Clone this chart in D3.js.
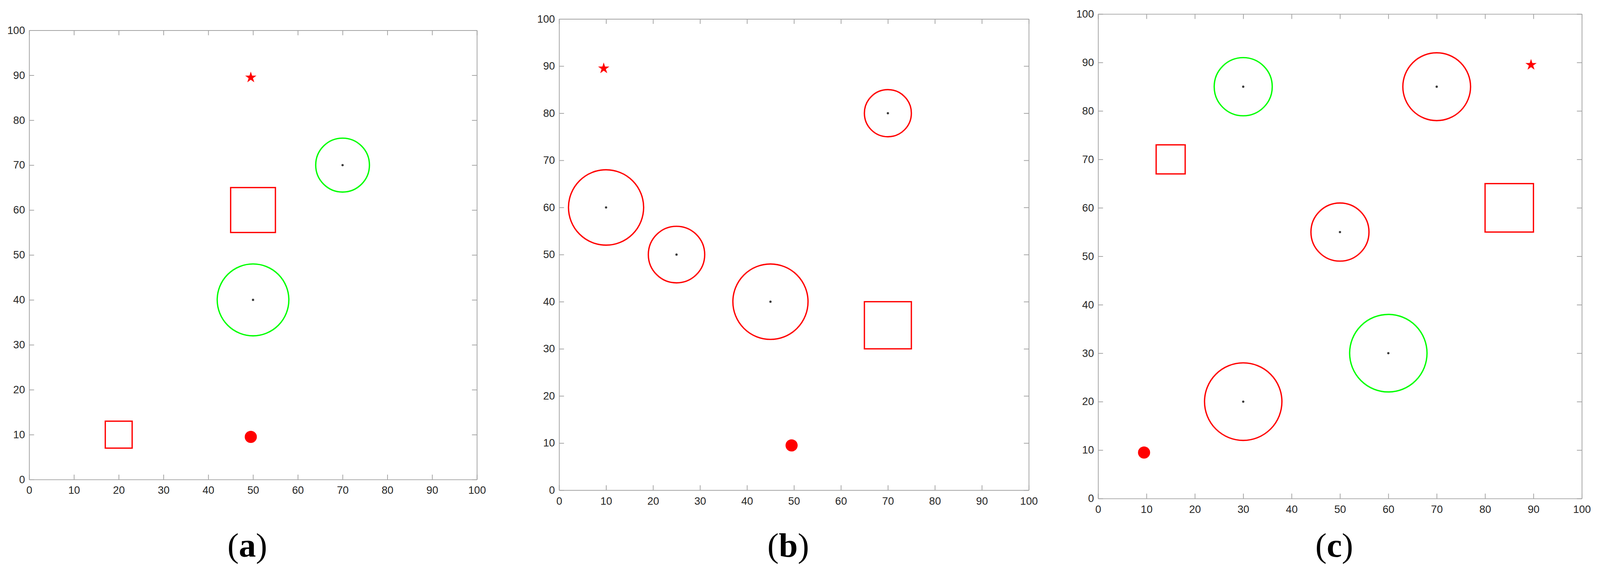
<!DOCTYPE html>
<html>
<head>
<meta charset="utf-8">
<script src="https://cdn.jsdelivr.net/npm/d3@7"></script>
<style>
html,body{margin:0;padding:0;background:#fff;overflow:hidden;}
svg{display:block;}
</style>
</head>
<body>
<svg id="chart" width="100%" viewBox="0 0 4224 1504" preserveAspectRatio="xMinYMin meet"></svg>
<script>
// values (data units, 0..100)
let tickVals=[0,10,20,30,40,50,60,70,80,90,100]
let panelNames=['a','b','c']
let startPts=[[49.5,9.5],[49.5,9.5],[9.5,9.5]]      // filled red dot
let goalPts=[[49.5,89.5],[9.5,89.5],[89.5,89.5]]    // red star
// circles: cx, cy, radius, kind (G = green, R = red)
let circlesA=[[70,70,6,'G'],[50,40,8,'G']]
let circlesB=[[70,80,5,'R'],[10,60,8,'R'],[25,50,6,'R'],[45,40,8,'R']]
let circlesC=[[30,85,6,'G'],[70,85,7,'R'],[50,55,6,'R'],[60,30,8,'G'],[30,20,8,'R']]
// squares: cx, cy, side
let squaresA=[[50,60,10],[20,10,6]]
let squaresB=[[70,35,10]]
let squaresC=[[15,70,6],[85,60,10]]

let circleSets=[circlesA,circlesB,circlesC]
let squareSets=[squaresA,squaresB,squaresC]

// where each axes box sits on the page
let frames=[
  {l:77,t:80,r:1259,b:1265},
  {l:1476,t:50,r:2716,b:1293},
  {l:2899,t:37,r:4176,b:1315}
]

let chart=d3.select('#chart')
let kindColor=d3.scaleOrdinal().domain(['G','R']).range(['#00ff00','#ff0000'])
let axisColor='#a3a3a3'
let labelColor='#262626'

let drawPanel=(i)=>{
  let f=frames[i]
  let x=d3.scaleLinear().domain([0,100]).range([f.l,f.r])
  let y=d3.scaleLinear().domain([0,100]).range([f.b,f.t])
  let g=chart.append('g').attr('class','panel')

  // box with inward ticks on all four sides
  let styleAxis=(sel)=>{
    sel.selectAll('path.domain').attr('stroke',axisColor).attr('stroke-width',2)
    sel.selectAll('.tick line').attr('stroke',axisColor).attr('stroke-width',2)
    sel.selectAll('.tick text').attr('fill',labelColor)
       .style('font-family','"Liberation Sans", Arial, sans-serif').style('font-size','28px')
  }
  g.append('g').attr('transform','translate(0,'+f.b+')')
   .call(d3.axisBottom(x).tickValues(tickVals).tickSizeInner(-13).tickSizeOuter(0).tickPadding(18))
   .call(styleAxis)
  g.append('g').attr('transform','translate('+f.l+',0)')
   .call(d3.axisLeft(y).tickValues(tickVals).tickSizeInner(-13).tickSizeOuter(0).tickPadding(11))
   .call(styleAxis)
  g.append('g').attr('transform','translate(0,'+f.t+')')
   .call(d3.axisTop(x).tickValues(tickVals).tickSizeInner(-13).tickSizeOuter(0).tickFormat(''))
   .call(styleAxis)
  g.append('g').attr('transform','translate('+f.r+',0)')
   .call(d3.axisRight(y).tickValues(tickVals).tickSizeInner(-13).tickSizeOuter(0).tickFormat(''))
   .call(styleAxis)

  // squares
  g.selectAll('rect.sq')
   .data(squareSets[i])
   .enter()
   .append('rect')
   .attr('class','sq')
   .attr('x',d=>x(d[0]-d[2]/2))
   .attr('y',d=>y(d[1]+d[2]/2))
   .attr('width',d=>x(d[0]+d[2]/2)-x(d[0]-d[2]/2))
   .attr('height',d=>y(d[1]-d[2]/2)-y(d[1]+d[2]/2))
   .attr('fill','none')
   .attr('stroke','#ff0000')
   .attr('stroke-width',3.4)

  // circles in data units
  g.selectAll('ellipse.obs')
   .data(circleSets[i])
   .enter()
   .append('ellipse')
   .attr('class','obs')
   .attr('cx',d=>x(d[0]))
   .attr('cy',d=>y(d[1]))
   .attr('rx',d=>x(d[2])-x(0))
   .attr('ry',d=>y(0)-y(d[2]))
   .attr('fill','none')
   .attr('stroke',d=>kindColor(d[3]))
   .attr('stroke-width',3.5)

  // centre points
  g.selectAll('circle.ctr')
   .data(circleSets[i])
   .enter()
   .append('circle')
   .attr('class','ctr')
   .attr('cx',d=>x(d[0]))
   .attr('cy',d=>y(d[1]))
   .attr('r',3)
   .attr('fill','#3a3a3a')

  // start dot
  g.append('circle')
   .datum(startPts[i])
   .attr('cx',d=>x(d[0]))
   .attr('cy',d=>y(d[1]))
   .attr('r',16)
   .attr('fill','#ff0000')

  // goal star
  g.append('path')
   .datum(goalPts[i])
   .attr('d',d3.symbol(d3.symbolStar).size(275))
   .attr('transform',d=>'translate('+x(d[0])+','+y(d[1])+')')
   .attr('fill','#ff0000')

  // caption
  let cap=g.append('text')
   .attr('x',(f.l+f.r)/2-15)
   .attr('y',1469)
   .attr('text-anchor','middle')
   .style('font-family','"Liberation Serif", "Times New Roman", serif')
   .style('font-size','90px')
   .attr('fill','#000')
  cap.append('tspan').text('(')
  cap.append('tspan').attr('font-weight','bold').text(panelNames[i])
  cap.append('tspan').text(')')
}

panelNames.forEach((n,i)=>drawPanel(i))
</script>
</body>
</html>
